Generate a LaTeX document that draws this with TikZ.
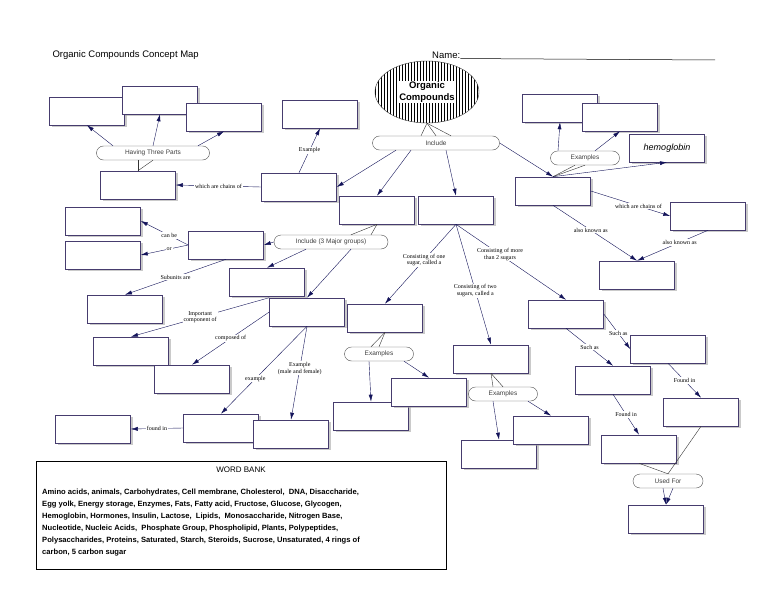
\documentclass[tikz,border=0pt]{standalone}
\usepackage{fontspec}
\setmainfont{Liberation Serif}
\setsansfont{Liberation Sans}
\usetikzlibrary{shapes.geometric,patterns,arrows.meta,shadows}
\definecolor{boxline}{RGB}{70,60,110}
\definecolor{arrowc}{RGB}{20,20,90}
\tikzset{
  box/.style={draw=boxline,line width=.6pt,minimum width=75pt,minimum height=28pt,fill=white,
    drop shadow={shadow xshift=2pt,shadow yshift=-2pt,fill=black!35,opacity=.6}},
  pill/.style={draw=black!70,rounded corners=7pt,minimum height=14pt,fill=white,font=\sffamily\fontsize{6.5}{7}\selectfont,text=black!75},
  lbl/.style={fill=white,text=black,font=\fontsize{6}{6.5}\selectfont,inner sep=1pt,align=center},
  arr/.style={-{Latex[length=7pt,width=4pt]},line width=.4pt,draw=black!80,arrowc},
  ln/.style={draw=black!80,line width=.4pt}
}
\begin{document}
\begin{tikzpicture}[x=1pt,y=-1pt]
\useasboundingbox (0,0) rectangle (768,594);
\node[anchor=west,font=\sffamily\fontsize{9.5}{10}\selectfont] (title) at (49,55) {Organic Compounds Concept Map};
\node[anchor=west,font=\sffamily\fontsize{9.5}{10}\selectfont,inner sep=0pt] (name) at (432,55) {Name:};
\draw[line width=.5pt] (name.south east) -- (715,60);
% center
\node[ellipse,draw=black!80,minimum width=104pt,minimum height=62pt,pattern=vertical lines] (top) at (427,92) {};
\node[fill=white,font=\sffamily\bfseries\fontsize{9.5}{12}\selectfont,align=center,inner sep=1pt] (toptxt) at (427,92) {Organic\\Compounds};
\node[pill,minimum width=127pt] (inc) at (436,143) {Include};
% left top
\node[box] (b1) at (87,111) {};
\node[box] (b2) at (160,100) {};
\node[box] (b3) at (224,117) {};
\node[box] (b4) at (320,114) {};
\node[pill,minimum width=113pt] (three) at (153,153) {Having Three Parts};
\node[box] (b5) at (138,185) {};
\node[box] (b6) at (299,187) {};
\node[box] (b7) at (377,210) {};
\node[box] (b8) at (456,210) {};
% right top
\node[box] (b9) at (553,191) {};
\node[box] (b10) at (560,108) {};
\node[box] (b11) at (620,117) {};
\node[box,font=\sffamily\itshape\fontsize{9}{10}\selectfont] (hemo) at (667,148) {hemoglobin};
\node[pill,minimum width=69pt] (ex1) at (585,158) {Examples};
\node[box] (b12) at (708,216) {};
\node[box] (b13) at (637,275) {};
% left middle
\node[box] (b14) at (103,221) {};
\node[box] (b15) at (103,255) {};
\node[box] (b16) at (226,245) {};
\node[pill,minimum width=114pt] (major) at (331,242) {Include (3 Major groups)};
\node[box] (b17) at (267,282) {};
\node[box] (b18) at (125,309) {};
\node[box] (b19) at (307,312) {};
\node[box] (b20) at (131,351) {};
\node[box] (b21) at (192,379) {};
\node[box] (b22) at (93,429) {};
\node[box] (b23) at (221,428) {};
\node[box] (b24) at (291,434) {};
% center bottom
\node[box] (b25) at (385,318) {};
\node[pill,minimum width=69pt] (ex2) at (379,354) {Examples};
\node[box] (b26) at (371,416) {};
\node[box] (b27) at (429,392) {};
\node[box] (b28) at (491,359) {};
\node[pill,minimum width=69pt] (ex3) at (503,394) {Examples};
\node[box] (b29) at (499,454) {};
\node[box] (b30) at (551,430) {};
% right bottom
\node[box] (b31) at (566,314) {};
\node[box] (b32) at (668,349) {};
\node[box] (b33) at (613,380) {};
\node[box] (b34) at (701,412) {};
\node[box] (b35) at (639,449) {};
\node[pill,minimum width=70pt] (used) at (668,481) {Used For};
\node[box] (b36) at (666,519) {};
%
\draw[ln] (top.south) -- (inc.north);
\draw[ln] (top.south) -- ([xshift=-15pt]inc.north);
\draw[ln] (top.south) -- ([xshift=15pt]inc.north);
\draw[arr] ([xshift=-40pt]inc.south) -- (b6.east);
\draw[arr] ([xshift=-25pt]inc.south) -- (b7.north);
\draw[arr] ([xshift=10pt]inc.south) -- (b8.north);
\draw[arr] (inc.east) -- (b9.north);
\draw[arr] (b6.north) -- node[lbl]{Example} (b4.south);
\draw[arr] (b6.west) -- node[lbl]{which are chains of} (b5.east);
\draw[ln] (b5.north) -- (three.south);
\draw[ln] (b5.north) -- ([xshift=-15pt]three.south);
\draw[arr] ([xshift=-40pt]three.north) -- (b1.south);
\draw[arr] (three.north) -- (b2.south);
\draw[arr] ([xshift=45pt]three.north) -- (b3.south);
% carbohydrates side
\draw[ln] (b7.south) -- ([xshift=40pt]major.north);
\draw[ln] (b7.south) -- ([xshift=20pt]major.north);
\draw[arr] (major.west) -- (b16.east);
\draw[arr] ([xshift=-25pt]major.south) -- (b17.north);
\draw[arr] ([xshift=20pt]major.south) -- (b19.north);
\draw[arr] (b16.west) -- node[lbl,pos=.4]{can be} (b14.east);
\draw[arr] (b16.west) -- node[lbl,pos=.4]{or} (b15.east);
\draw[arr] (b16.south) -- node[lbl]{Subunits are} (b18.north);
\draw[arr] (b19.north west) -- node[lbl]{Important\\component of} (b20.north);
\draw[arr] (b19.west) -- node[lbl]{composed of} (b21.north);
\draw[arr] (b19.south) -- node[lbl,pos=.6]{example} (b23.north);
\draw[arr] (b19.south) -- node[lbl,pos=.45]{Example\\(male and female)} (b24.north);
\draw[arr] (b23.west) -- node[lbl]{found in} (b22.east);
% sugars
\draw[arr] (b8.south) -- node[lbl,pos=.45]{Consisting of one\\sugar, called a} (b25.north);
\draw[arr] (b8.south) -- node[lbl,pos=.55]{Consisting of two\\sugars, called a} (b28.north);
\draw[arr] (b8.south) -- node[lbl,pos=.4]{Consisting of more\\than 2 sugars} (b31.north);
\draw[ln] (b25.south) -- (ex2.north);
\draw[ln] (b25.south) -- ([xshift=-8pt]ex2.north);
\draw[arr] ([xshift=-10pt]ex2.south) -- (b26.north);
\draw[arr] ([xshift=25pt]ex2.south) -- (b27.north);
\draw[ln] (b28.south) -- (ex3.north);
\draw[ln] (b28.south) -- ([xshift=-10pt]ex3.north);
\draw[arr] ([xshift=-10pt]ex3.south) -- (b29.north);
\draw[arr] ([xshift=25pt]ex3.south) -- (b30.north);
\draw[arr] (b31.east) -- node[lbl,pos=.55]{Such as} (b32.west);
\draw[arr] (b31.south) -- node[lbl]{Such as} (b33.north);
\draw[arr] (b33.south) -- node[lbl]{Found in} (b35.north);
\draw[arr] (b32.south) -- node[lbl]{Found in} (b34.north);
\draw[ln] (b35.south) -- (used.north);
\draw[ln] (b34.south) -- (used.north);
\draw[arr] ([xshift=-5pt]used.south) -- (b36.north);
\draw[arr] ([xshift=5pt]used.south) -- (b36.north);
% proteins
\draw[ln] (b9.north) -- (ex1.south);
\draw[ln] (b9.north) -- ([xshift=-10pt]ex1.south);
\draw[arr] ([xshift=-27pt]ex1.north) -- (b10.south);
\draw[arr] ([xshift=10pt]ex1.north) -- (b11.south);
\draw[arr] (b9.north) -- (hemo.south);
\draw[arr] (b9.east) -- node[lbl,pos=.6]{which are chains of} (b12.west);
\draw[arr] (b9.south) -- node[lbl,pos=.45]{also known as} (b13.north);
\draw[arr] (b12.south) -- node[lbl,pos=.4]{also known as} (b13.north);
% word bank
\draw[line width=.6pt] (36,461) rectangle (446,569);
\node[font=\sffamily\fontsize{8}{9}\selectfont] (wb) at (241,470) {WORD BANK};
\node[anchor=north west,align=left,font=\sffamily\bfseries\fontsize{7.6}{12}\selectfont,inner sep=0pt] (words) at (42,489)
{Amino acids, animals, Carbohydrates, Cell membrane, Cholesterol,\ \ DNA, Disaccharide,\\
Egg yolk, Energy storage, Enzymes, Fats, Fatty acid, Fructose, Glucose, Glycogen,\\
Hemoglobin, Hormones, Insulin, Lactose,\ \ Lipids,\ \ Monosaccharide, Nitrogen Base,\\
Nucleotide, Nucleic Acids,\ \ Phosphate Group, Phospholipid, Plants, Polypeptides,\\
Polysaccharides, Proteins, Saturated, Starch, Steroids, Sucrose, Unsaturated, 4 rings of\\
carbon, 5 carbon sugar};
\end{tikzpicture}
\end{document}
